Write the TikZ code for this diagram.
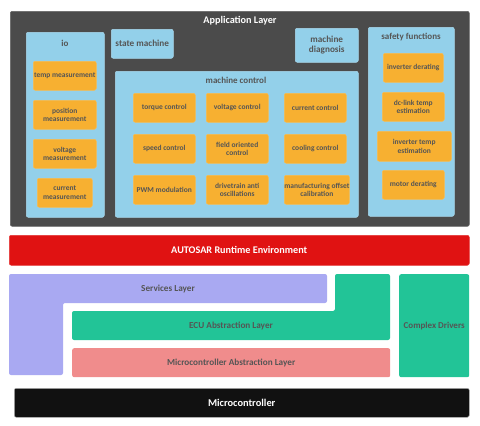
\documentclass[tikz,border=0pt]{standalone}
\usepackage{fontspec}
\setmainfont{Carlito}
\definecolor{appgray}{HTML}{4B4B4B}
\definecolor{lblue}{HTML}{93D0EA}
\definecolor{orng}{HTML}{F7B031}
\definecolor{txtg}{HTML}{555555}
\definecolor{rteRed}{HTML}{E01212}
\definecolor{svcPurple}{HTML}{A9A9F2}
\definecolor{ecuGreen}{HTML}{22C497}
\definecolor{mcalPink}{HTML}{F08C8C}
\definecolor{mcuBlack}{HTML}{111111}
\tikzset{
  base/.style={anchor=north west, inner sep=0pt, rounded corners=2pt, align=center},
  appbox/.style={base, fill=appgray, draw=gray!80!black, line width=0.6pt},
  bluebox/.style={base, fill=lblue, draw=lblue!80!white, line width=0.5pt, text=txtg, font=\bfseries\fontsize{9.2}{10.5}\selectfont},
  orbox/.style={base, fill=orng, draw=orng!85!white, line width=0.5pt, text=txtg, font=\bfseries\fontsize{7.5}{8.6}\selectfont},
  ttl/.style={inner sep=0pt, text=txtg, font=\bfseries\fontsize{9}{10}\selectfont},
  layertxt/.style={inner sep=0pt, font=\bfseries\fontsize{9.2}{10.5}\selectfont},
}
\newcommand\bx[6]{\node[#1, minimum width={(#4-#2)*1pt}, minimum height={(#5-#3)*1pt}] (#6) at (#2,#3)}
\begin{document}
\begin{tikzpicture}[x=1pt,y=-1pt]
\useasboundingbox (0,0) rectangle (480,426);
% Application layer
\bx{appbox}{10}{11}{469}{226}{app} {};
\node[inner sep=0pt, text=white, font=\bfseries\fontsize{10.2}{11}\selectfont] (apptitle) at (240,21) {Application Layer};
% io
\bx{bluebox}{26}{32}{104}{217}{io} {};
\node[ttl] (iotitle) at (65,43) {io};
\bx{orbox}{33}{61}{96}{90}{tempm} {temp measurement};
\bx{orbox}{33}{100}{96}{129}{posm} {position\\measurement};
\bx{orbox}{33}{139}{96}{168}{voltm} {voltage\\measurement};
\bx{orbox}{37}{178}{92}{207}{currm} {current\\measurement};
% state machine
\bx{bluebox}{111}{29}{173}{58}{sm} {state machine};
% machine diagnosis
\bx{bluebox}{295}{28}{358}{62}{md} {machine\\diagnosis};
% machine control
\bx{bluebox}{115}{71}{358}{217}{mc} {};
\node[ttl] (mctitle) at (236,80) {machine control};
\bx{orbox}{133}{93}{195}{122}{torque} {torque control};
\bx{orbox}{206}{93}{268}{122}{voltc} {voltage control};
\bx{orbox}{284}{93}{346}{122}{currc} {current control};
\bx{orbox}{133}{134}{195}{163}{speed} {speed control};
\bx{orbox}{206}{134}{268}{163}{foc} {field oriented\\control};
\bx{orbox}{284}{134}{346}{163}{cool} {cooling control};
\bx{orbox}{133}{175}{195}{204}{pwm} {PWM modulation};
\bx{orbox}{206}{175}{268}{204}{drive} {drivetrain anti\\oscillations};
\bx{orbox}{284}{175}{346}{204}{mfg} {manufacturing offset\\calibration};
% safety functions
\bx{bluebox}{368}{27}{454}{216}{sf} {};
\node[ttl] (sftitle) at (411,37) {safety functions};
\bx{orbox}{383}{53}{443}{82}{invd} {inverter derating};
\bx{orbox}{382}{92}{444}{121}{dclink} {dc-link temp\\estimation};
\bx{orbox}{377}{131}{451}{161}{invt} {inverter temp\\estimation};
\bx{orbox}{382}{170}{444}{199}{motd} {motor derating};
% RTE
\bx{base, fill=rteRed, draw=rteRed!85!white, line width=0.5pt, text=white, font=\bfseries\fontsize{10.2}{11}\selectfont}{9}{235}{469}{265}{rte} {AUTOSAR Runtime Environment};
% Services layer (L shape)
\fill[svcPurple, rounded corners=2pt] (9,274) -- (327,274) -- (327,303) -- (63,303) -- (63,375) -- (9,375) -- cycle;
\node[layertxt, text=txtg] (svc) at (168,289) {Services Layer};
% ECU abstraction (inverted L)
\fill[ecuGreen, rounded corners=2pt] (335,274) -- (390,274) -- (390,340) -- (72,340) -- (72,311) -- (335,311) -- cycle;
\node[layertxt, text=txtg] (ecu) at (231,326) {ECU Abstraction Layer};
% MCAL
\bx{base, fill=mcalPink, text=txtg, font=\bfseries\fontsize{9.2}{10.5}\selectfont}{72}{348}{390}{377}{mcal} {Microcontroller Abstraction Layer};
% Complex drivers
\bx{base, fill=ecuGreen, text=txtg, font=\bfseries\fontsize{9}{10}\selectfont}{399}{274}{469}{377}{cdd} {Complex Drivers};
% Microcontroller
\bx{base, fill=mcuBlack, draw=gray!60, line width=0.5pt, text=white, font=\bfseries\fontsize{10.4}{11}\selectfont}{14}{388}{469}{417}{mcu} {Microcontroller};
\end{tikzpicture}
\end{document}
